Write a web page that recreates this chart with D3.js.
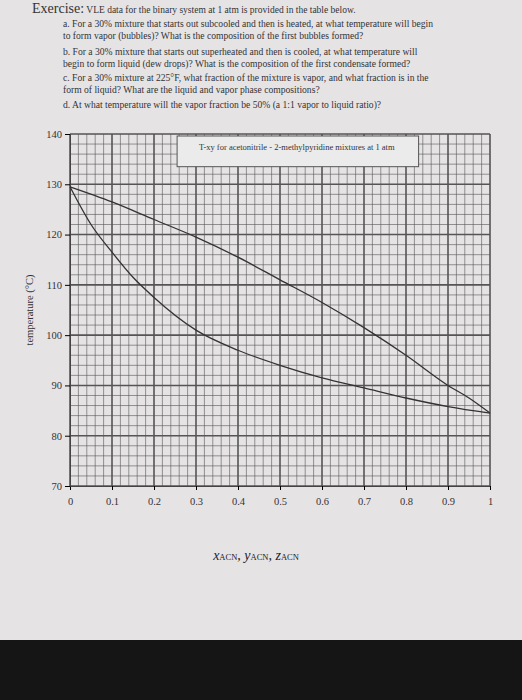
<!DOCTYPE html><html><head><script src="https://cdn.jsdelivr.net/npm/d3@7"></script>
<style>body{margin:0;background:#e4e1e3}</style></head><body><svg id="c" width="522" height="700"></svg>
<script>
const xTicks=[0,0.1,0.2,0.3,0.4,0.5,0.6,0.7,0.8,0.9,1];
const yTicks=[70,80,90,100,110,120,130,140];
const bubbleX=[0,0.05,0.1,0.15,0.2,0.3,0.4,0.5,0.6,0.7,0.8,0.9,1];
const bubbleT=[129.5,122,116.5,111.5,107.5,101,97,94,91.5,89.5,87.5,85.8,84.5];
const dewX=[0,0.1,0.2,0.3,0.4,0.5,0.6,0.7,0.8,0.9,0.95,1];
const dewT=[129.5,126.5,123,119.5,115.5,111,106.5,101.5,96,90,87.5,84.5];
const questions=["a. For a 30% mixture that starts out subcooled and then is heated, at what temperature will begin","to form vapor (bubbles)?  What is the composition of the first bubbles formed?",
"b. For a 30% mixture that starts out superheated and then is cooled, at what temperature will","begin to form liquid (dew drops)?  What is the composition of the first condensate formed?",
"c. For a 30% mixture at 225°F, what fraction of the mixture is vapor, and what fraction is in the","form of liquid?  What are the liquid and vapor phase compositions?",
"d. At what temperature will the vapor fraction be 50% (a 1:1 vapor to liquid ratio)?"];
const svg=d3.select("#c");
const F="Liberation Serif, serif";
svg.append("rect").attr("x",0).attr("y",640).attr("width",522).attr("height",60).attr("fill","#151515");
svg.append("rect").attr("x",0).attr("y",0).attr("width",522).attr("height",640).attr("fill","#e6e3e5");
svg.append("text").attr("x",32).attr("y",13).attr("font-family",F).attr("font-size",14).attr("fill","#333").text("Exercise:")
 .append("tspan").attr("font-size",9.5).text("  VLE data for the binary system at 1 atm is provided in the table below.");
const qy=[27,39,55,67,81,93,108];
questions.forEach((q,i)=>svg.append("text").attr("x",63).attr("y",qy[i]).attr("font-family",F).attr("font-size",9.6).attr("fill","#333").text(q));
const x=d3.scaleLinear().domain([0,1]).range([70,490]);
const y=d3.scaleLinear().domain([70,140]).range([486,134]);
const g=svg.append("g");
d3.range(0,1.0001,0.02).forEach(v=>{const maj=Math.abs(v*10-Math.round(v*10))<1e-6;
 g.append("line").attr("x1",x(v)).attr("x2",x(v)).attr("y1",y(70)).attr("y2",y(140)).attr("stroke","#555").attr("stroke-width",maj?1.6:0.6);});
d3.range(70,140.001,2).forEach(v=>{const maj=v%10==0;
 g.append("line").attr("x1",x(0)).attr("x2",x(1)).attr("y1",y(v)).attr("y2",y(v)).attr("stroke","#555").attr("stroke-width",maj?1.6:0.6);});
g.append("g").attr("transform",`translate(0,${y(70)})`).call(d3.axisBottom(x).tickValues(xTicks).tickFormat(d=>d).tickSize(4).tickPadding(8))
 .call(a=>{a.select(".domain").attr("stroke","#444");a.selectAll("text").attr("font-family",F).attr("font-size",10.5).attr("fill","#333")});
g.append("g").attr("transform",`translate(${x(0)},0)`).call(d3.axisLeft(y).tickValues(yTicks).tickSize(5).tickPadding(3))
 .call(a=>{a.select(".domain").attr("stroke","#444");a.selectAll("text").attr("font-family",F).attr("font-size",10.5).attr("fill","#333")});
const line=d3.line().x(d=>x(d[0])).y(d=>y(d[1])).curve(d3.curveMonotoneX);
g.append("path").attr("d",line(bubbleX.map((v,i)=>[v,bubbleT[i]]))).attr("fill","none").attr("stroke","#333").attr("stroke-width",1.3);
g.append("path").attr("d",line(dewX.map((v,i)=>[v,dewT[i]]))).attr("fill","none").attr("stroke","#333").attr("stroke-width",1.3);
g.append("rect").attr("x",x(0.255)).attr("y",y(139.6)).attr("width",x(0.83)-x(0.255)).attr("height",y(133.5)-y(139.6)).attr("fill","#ecebeb").attr("stroke","#555");
g.append("text").attr("x",x(0.54)).attr("y",y(136.9)).attr("text-anchor","middle").attr("font-family",F).attr("font-size",8.5).attr("fill","#333").text("T-xy  for acetonitrile - 2-methylpyridine mixtures at 1 atm");
svg.append("text").attr("transform","translate(33,310) rotate(-90)").attr("text-anchor","middle").attr("font-family",F).attr("font-size",10.5).attr("fill","#333").text("temperature (°C)");
const xl=svg.append("text").attr("x",256).attr("y",560).attr("text-anchor","middle").attr("font-family",F).attr("font-style","italic").attr("font-size",14).attr("fill","#222");
[["x","ACN"],["y","ACN"],["z","ACN"]].forEach((p,i)=>{xl.append("tspan").text((i?", ":"")+p[0]);xl.append("tspan").attr("font-size",8.5).attr("font-style","normal").text(p[1]);});
</script></body></html>
